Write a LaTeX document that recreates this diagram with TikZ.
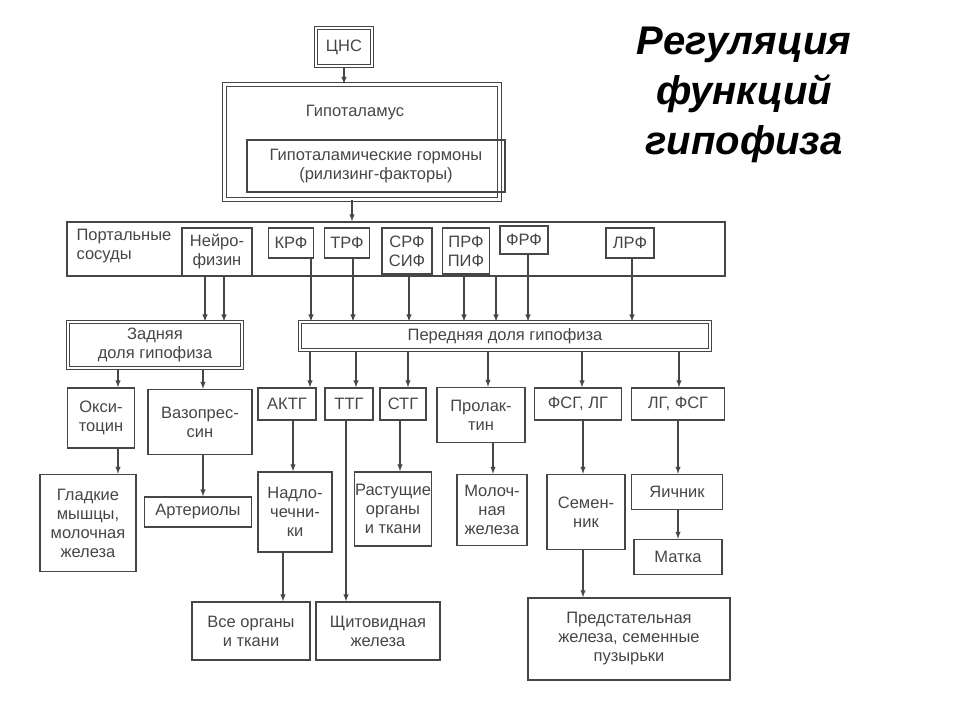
\documentclass[tikz,border=0pt]{standalone}
\usepackage{fontspec}
\setmainfont{Liberation Sans}
\usetikzlibrary{arrows}
\definecolor{Ink}{RGB}{70,70,70}
\begin{document}
\begin{tikzpicture}[x=1pt,y=-1pt]
    \tikzset{ box/.style ={draw=Ink, line width=1.4pt, align=center, inner sep=0pt, font=\fontsize{16.5}{19}\selectfont, text=Ink} }
    \tikzset{ dbox/.style={box, double=white, double distance=2.2pt, line width=1.1pt} }
    \tikzset{ arr/.style ={draw=Ink, line width=1.4pt, ->, >=latex} }
    \useasboundingbox (0,0) rectangle (960,720);

    \node[font=\fontsize{40}{50}\selectfont\bfseries\itshape, align=center] (title) at (744,95) {Регуляция\\функций\\гипофиза};

    \node[dbox, minimum width=56pt,  minimum height=38pt ] (cns)   at (344, 47) {ЦНС};
    \node[dbox, minimum width=275pt, minimum height=115pt] (hyp)   at (362,142) {};
    \node[box,  draw=none                                ] (hypt)  at (355,113) {Гипоталамус};
    \node[box,  minimum width=258pt, minimum height=52pt ] (horm)  at (376,166) {Гипоталамические гормоны\\(рилизинг-факторы)};

    \node[box,  minimum width=658pt, minimum height=54pt ] (port)  at (396,249) {};
    \node[box,  draw=none, align=left                    ] (portt) at (124,246) {Портальные\\сосуды};
    \node[box,  minimum width=70pt,  minimum height=48pt ] (neiro) at (217,252) {Нейро-\\физин};
    \node[box,  minimum width=45pt,  minimum height=30pt ] (krf)   at (291,243) {КРФ};
    \node[box,  minimum width=45pt,  minimum height=30pt ] (trf)   at (347,243) {ТРФ};
    \node[box,  minimum width=50pt,  minimum height=46pt ] (srf)   at (407,251) {СРФ\\СИФ};
    \node[box,  minimum width=47pt,  minimum height=46pt ] (prf)   at (466,251) {ПРФ\\ПИФ};
    \node[box,  minimum width=48pt,  minimum height=28pt ] (frf)   at (524,240) {ФРФ};
    \node[box,  minimum width=48pt,  minimum height=30pt ] (lrf)   at (630,243) {ЛРФ};

    \node[dbox, minimum width=174pt, minimum height=46pt ] (zad)   at (155,345) {Задняя\\доля гипофиза};
    \node[dbox, minimum width=410pt, minimum height=28pt ] (pered) at (505,336) {Передняя доля гипофиза};

    \node[box,  minimum width=67pt,  minimum height=60pt ] (oksi)  at (101,418) {Окси-\\тоцин};
    \node[box,  minimum width=104pt, minimum height=65pt ] (vazo)  at (200,422) {Вазопрес-\\син};
    \node[box,  minimum width=58pt,  minimum height=32pt ] (aktg)  at (287,404) {АКТГ};
    \node[box,  minimum width=48pt,  minimum height=32pt ] (ttg)   at (349,404) {ТТГ};
    \node[box,  minimum width=46pt,  minimum height=32pt ] (stg)   at (403,404) {СТГ};
    \node[box,  minimum width=88pt,  minimum height=55pt ] (prol)  at (481,415) {Пролак-\\тин};
    \node[box,  minimum width=87pt,  minimum height=32pt ] (fsg)   at (578,404) {ФСГ, ЛГ};
    \node[box,  minimum width=93pt,  minimum height=32pt ] (lg)    at (678,404) {ЛГ, ФСГ};

    \node[box,  minimum width=96pt,  minimum height=97pt ] (glad)  at (88,523)  {Гладкие\\мышцы,\\молочная\\железа};
    \node[box,  minimum width=107pt, minimum height=30pt ] (art)   at (198,512) {Артериолы};
    \node[box,  minimum width=74pt,  minimum height=80pt ] (nadl)  at (295,512) {Надло-\\чечни-\\ки};
    \node[box,  minimum width=77pt,  minimum height=74pt ] (rast)  at (393,509) {Растущие\\органы\\и ткани};
    \node[box,  minimum width=70pt,  minimum height=71pt ] (mol)   at (492,510) {Молоч-\\ная\\железа};
    \node[box,  minimum width=78pt,  minimum height=75pt ] (semen) at (586,512) {Семен-\\ник};
    \node[box,  minimum width=91pt,  minimum height=35pt ] (yaich) at (677,492) {Яичник};
    \node[box,  minimum width=88pt,  minimum height=35pt ] (matka) at (678,557) {Матка};

    \node[box,  minimum width=118pt, minimum height=58pt ] (vse)   at (251,631) {Все органы\\и ткани};
    \node[box,  minimum width=124pt, minimum height=58pt ] (shch)  at (378,631) {Щитовидная\\железа};
    \node[box,  minimum width=202pt, minimum height=82pt ] (pred)  at (629,639) {Предстательная\\железа, семенные\\пузырьки};

    % hypothalamus chain
    \draw[arr] (cns)        -- (cns |- hyp.north);
    \draw[arr] (352,0 |- hyp.south) -- (352,0 |- port.north);

    % portal vessels to pituitary lobes
    \draw[arr] (205,0 |- neiro.south) -- (205,0 |- zad.north);
    \draw[arr] (224,0 |- port.south)  -- (224,0 |- zad.north);
    \draw[arr] (311,0 |- krf.south)   -- (311,0 |- pered.north);
    \draw[arr] (353,0 |- trf.south)   -- (353,0 |- pered.north);
    \draw[arr] (409,0 |- srf.south)   -- (409,0 |- pered.north);
    \draw[arr] (464,0 |- prf.south)   -- (464,0 |- pered.north);
    \draw[arr] (496,0 |- port.south)  -- (496,0 |- pered.north);
    \draw[arr] (528,0 |- frf.south)   -- (528,0 |- pered.north);
    \draw[arr] (632,0 |- lrf.south)   -- (632,0 |- pered.north);

    % posterior lobe
    \draw[arr] (118,0 |- zad.south)   -- (118,0 |- oksi.north);
    \draw[arr] (203,0 |- zad.south)   -- (203,0 |- vazo.north);
    \draw[arr] (118,0 |- oksi.south)  -- (118,0 |- glad.north);
    \draw[arr] (203,0 |- vazo.south)  -- (203,0 |- art.north);

    % anterior lobe
    \draw[arr] (310,0 |- pered.south) -- (310,0 |- aktg.north);
    \draw[arr] (356,0 |- pered.south) -- (356,0 |- ttg.north);
    \draw[arr] (408,0 |- pered.south) -- (408,0 |- stg.north);
    \draw[arr] (488,0 |- pered.south) -- (488,0 |- prol.north);
    \draw[arr] (582,0 |- pered.south) -- (582,0 |- fsg.north);
    \draw[arr] (679,0 |- pered.south) -- (679,0 |- lg.north);

    \draw[arr] (293,0 |- aktg.south)  -- (293,0 |- nadl.north);
    \draw[arr] (346,0 |- ttg.south)   -- (346,0 |- shch.north);
    \draw[arr] (400,0 |- stg.south)   -- (400,0 |- rast.north);
    \draw[arr] (493,0 |- prol.south)  -- (493,0 |- mol.north);
    \draw[arr] (583,0 |- fsg.south)   -- (583,0 |- semen.north);
    \draw[arr] (678,0 |- lg.south)    -- (678,0 |- yaich.north);
    \draw[arr] (283,0 |- nadl.south)  -- (283,0 |- vse.north);
    \draw[arr] (583,0 |- semen.south) -- (583,0 |- pred.north);
    \draw[arr] (678,0 |- yaich.south) -- (678,0 |- matka.north);
\end{tikzpicture}
\end{document}
